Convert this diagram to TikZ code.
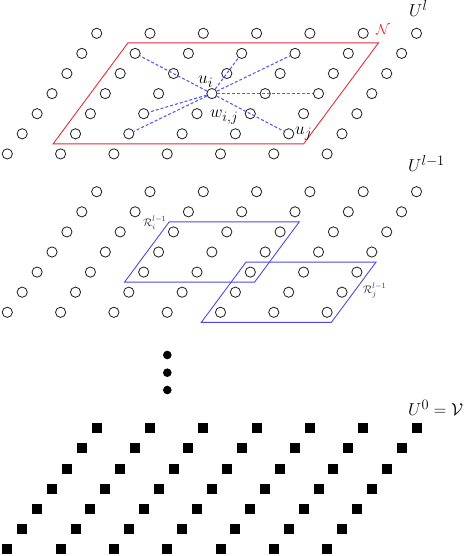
\documentclass[tikz,border=0pt]{standalone}
\usepackage{amsmath}
\definecolor{nred}{RGB}{228,45,55}
\definecolor{nblue}{RGB}{75,75,225}
\definecolor{dblue}{RGB}{90,90,240}
\begin{document}
\begin{tikzpicture}[x=1pt,y=-1pt,
  circ/.style={circle,draw=black!85,line width=0.85pt,minimum size=10.2pt,inner sep=0pt},
  sq/.style={rectangle,fill=black,minimum size=10pt,inner sep=0pt},
  bigdot/.style={circle,fill=black,minimum size=8.6pt,inner sep=0pt},
  redline/.style={draw=nred,line width=0.9pt},
  blueline/.style={draw=nblue,line width=0.9pt},
  dl/.style={draw=dblue,dash pattern=on 3pt off 2pt,line width=1.1pt},
  lab/.style={font=\fontsize{19}{21}\selectfont,inner sep=0pt,anchor=base west},
  smalllab/.style={font=\fontsize{11}{13}\selectfont,inner sep=0pt,anchor=base west,text=black!80},
  grid/.style={x={(53.3pt,0pt)},y={(-14.9pt,-20.1pt)}}
]
\useasboundingbox (0,0) rectangle (474,556);

% top layer U^l
\begin{scope}[shift={(96.7pt,-33.3pt)},grid]
  \foreach \r in {0,...,6}
    \foreach \c in {0,...,6}
      \node[circ] (t-\r-\c) at (\c,\r) {};
  \draw[redline] (0.72,0.48) -- (5.42,0.48) -- (5.42,5.5) -- (0.72,5.5) -- cycle;
\end{scope}
\foreach \r/\c in {1/1,1/3,1/4,3/5,4/2,5/2,5/5}
  \draw[dl] (t-3-3) -- (t-\r-\c);

% middle layer U^{l-1}
\begin{scope}[shift={(96.7pt,-191.7pt)},grid]
  \foreach \r in {0,...,6}
    \foreach \c in {0,...,6}
      \node[circ] (m-\r-\c) at (\c,\r) {};
  \draw[blueline] (1.78,1.5) -- (4.22,1.5) -- (4.22,4.5) -- (1.78,4.5) -- cycle;
  \draw[blueline] (3.78,3.5) -- (6.22,3.5) -- (6.22,6.5) -- (3.78,6.5) -- cycle;
\end{scope}

% bottom layer U^0
\begin{scope}[shift={(96.7pt,-428.3pt)},grid]
  \foreach \r in {0,...,6}
    \foreach \c in {0,...,6}
      \node[sq] (b-\r-\c) at (\c,\r) {};
\end{scope}

% vertical dots
\node[bigdot] (d1) at (167.3,355) {};
\node[bigdot] (d2) at (167.3,372.7) {};
\node[bigdot] (d3) at (167.3,390) {};

% labels
\node[lab] (lUl) at (409,16.5) {$U^{l}$};
\node[lab] (lUl1) at (408,171.5) {$U^{l-1}$};
\node[lab] (lU0) at (408,415.5) {$U^{0}=\mathcal{V}$};
\node[lab,font=\fontsize{15}{17}\selectfont,text=nred] (lN) at (376,34.5) {$\mathcal{N}$};
\node[lab] (lui) at (198,84) {$u_i$};
\node[lab] (lwij) at (210,118) {$w_{i,j}$};
\node[lab] (luj) at (295,134.5) {$u_j$};
\node[smalllab] (lRi) at (143,226.5) {$\mathcal{R}_i^{l-1}$};
\node[smalllab] (lRj) at (363,293) {$\mathcal{R}_j^{l-1}$};
\end{tikzpicture}
\end{document}
